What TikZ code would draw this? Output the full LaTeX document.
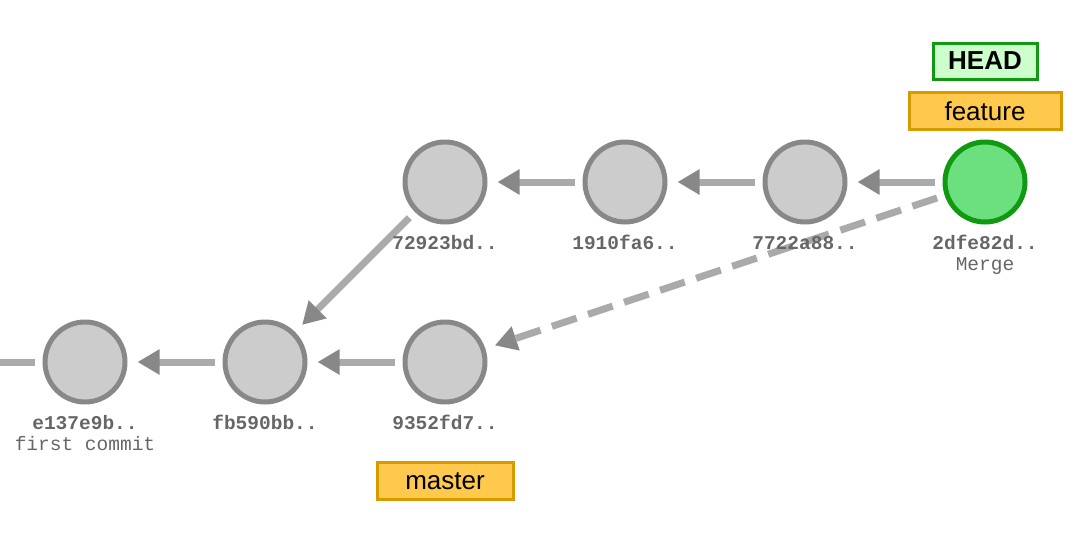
\documentclass[tikz,border=0pt]{standalone}
\usepackage{fontspec}
\setmainfont{Liberation Sans}
\setmonofont{Liberation Mono}
\usetikzlibrary{arrows.meta}
\definecolor{cfill}{HTML}{CCCCCC}
\definecolor{cline}{HTML}{888888}
\definecolor{eline}{HTML}{AAAAAA}
\definecolor{gfill}{HTML}{6CE07F}
\definecolor{gline}{HTML}{119911}
\definecolor{yfill}{HTML}{FFC94D}
\definecolor{yline}{HTML}{D99A00}
\definecolor{hfill}{HTML}{CCFFCC}
\definecolor{tgray}{HTML}{666666}
\tikzset{
 commit/.style={circle,draw=cline,fill=cfill,line width=5pt,minimum size=80pt,inner sep=0pt},
 headc/.style={commit,draw=gline,fill=gfill},
 edge/.style={draw=eline,line width=7pt,shorten <=8pt,shorten >=10pt,-{Triangle[length=22pt,width=24pt,color=cline]}},
 dedge/.style={edge,dash pattern=on 26pt off 12pt},
 hash/.style={font=\fontsize{19.5}{22}\selectfont\ttfamily\bfseries,text=tgray,anchor=base},
 msg/.style={font=\fontsize{19.5}{22}\selectfont\ttfamily,text=tgray,anchor=base},
 branch/.style={draw=yline,fill=yfill,line width=3pt,minimum height=37pt,font=\fontsize{26}{28}\selectfont},
 headb/.style={draw=gline,fill=hfill,line width=3pt,minimum height=36pt,font=\fontsize{26}{28}\selectfont\bfseries},
}
\begin{document}
\begin{tikzpicture}[x=1pt,y=-1pt]
\useasboundingbox (0,0) rectangle (1082,536);
\node[commit] (e1) at (85,362) {};
\node[commit] (fb) at (265,362) {};
\node[commit] (93) at (445,362) {};
\node[commit] (72) at (445,182) {};
\node[commit] (19) at (625,182) {};
\node[commit] (77) at (805,182) {};
\node[headc] (2d) at (985,182) {};
\coordinate (stub) at (0,362);
\draw[draw=eline,line width=7pt,shorten >=8pt] (stub) -- (e1);
\draw[edge] (fb) -- (e1);
\draw[edge] (93) -- (fb);
\draw[edge] (19) -- (72);
\draw[edge] (77) -- (19);
\draw[edge] (2d) -- (77);
\draw[dedge] (2d) -- (93);
\draw[edge] (72) -- (fb);
\node[hash] (l1) at (85,249) {};
\node[hash] (k1) at (85,429) {e137e9b..};
\node[msg] (m1) at (85,450) {first commit};
\node[hash] (l2) at (265,429) {fb590bb..};
\node[hash] (l3) at (445,429) {9352fd7..};
\node[hash] (l4) at (445,249) {72923bd..};
\node[hash] (l5) at (625,249) {1910fa6..};
\node[hash] (l6) at (805,249) {7722a88..};
\node[hash] (l7) at (985,249) {2dfe82d..};
\node[msg] (m7) at (985,270) {Merge};
\node[branch,minimum width=152pt] (feat) at (985,111) {feature};
\node[headb,minimum width=104pt] (head) at (985,61) {HEAD};
\node[branch,minimum width=136pt] (mast) at (445,481) {master};
\end{tikzpicture}
\end{document}
